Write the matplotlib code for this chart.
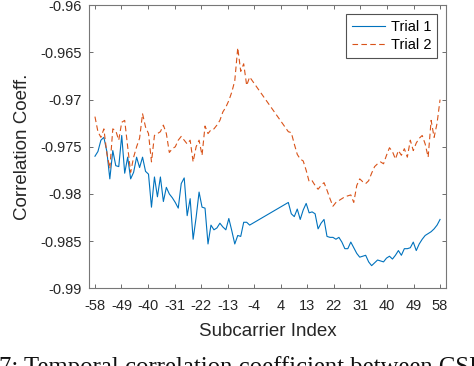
import numpy as np
import matplotlib
matplotlib.use("Agg")
import matplotlib.pyplot as plt

# Subcarrier indices (data missing between -6 and 7)
sub_left = list(range(-58, -5))
sub_right = list(range(7, 59))
subcarriers = sub_left + sub_right

trial1 = [
    -0.9760, -0.9755, -0.9743, -0.9740, -0.9755, -0.9784, -0.9754, -0.9770, -0.9771, -0.9738,
    -0.9778, -0.9761, -0.9784, -0.9777, -0.9761, -0.9772, -0.9761, -0.9776, -0.9779, -0.9814,
    -0.9782, -0.9803, -0.9782, -0.9808, -0.9793, -0.9800, -0.9804, -0.9809, -0.9815, -0.9789,
    -0.9783, -0.9823, -0.9805, -0.9848, -0.9825, -0.9798, -0.9814, -0.9815, -0.9853, -0.9833,
    -0.9838, -0.9836, -0.9831, -0.9835, -0.9838, -0.9826, -0.9839, -0.9853, -0.9844, -0.9845,
    -0.9830, -0.9830, -0.9833,
    -0.9809, -0.9821, -0.9824, -0.9816, -0.9827, -0.9817, -0.9810, -0.9820, -0.9819, -0.9821,
    -0.9837, -0.9831, -0.9827, -0.9845, -0.9846, -0.9846, -0.9848, -0.9846, -0.9851, -0.9858,
    -0.9858, -0.9851, -0.9857, -0.9863, -0.9867, -0.9866, -0.9865, -0.9872, -0.9876, -0.9873,
    -0.9870, -0.9871, -0.9872, -0.9868, -0.9866, -0.9869, -0.9865, -0.9860, -0.9865, -0.9858,
    -0.9858, -0.9857, -0.9851, -0.9860, -0.9853, -0.9848, -0.9844, -0.9842, -0.9840, -0.9837,
    -0.9833, -0.9827,
]

trial2 = [
    -0.9718, -0.9734, -0.9740, -0.9731, -0.9757, -0.9773, -0.9731, -0.9733, -0.9743, -0.9724,
    -0.9722, -0.9750, -0.9777, -0.9761, -0.9750, -0.9741, -0.9715, -0.9729, -0.9736, -0.9766,
    -0.9738, -0.9736, -0.9734, -0.9727, -0.9736, -0.9756, -0.9752, -0.9750, -0.9743, -0.9739,
    -0.9743, -0.9747, -0.9743, -0.9766, -0.9750, -0.9743, -0.9759, -0.9728, -0.9736, -0.9732,
    -0.9731, -0.9727, -0.9722, -0.9713, -0.9708, -0.9701, -0.9692, -0.9680, -0.9645, -0.9670,
    -0.9662, -0.9685, -0.9676,
    -0.9734, -0.9735, -0.9747, -0.9758, -0.9763, -0.9765, -0.9775, -0.9787, -0.9786, -0.9791,
    -0.9795, -0.9791, -0.9788, -0.9796, -0.9805, -0.9813, -0.9809, -0.9807, -0.9805, -0.9803,
    -0.9802, -0.9801, -0.9809, -0.9791, -0.9784, -0.9787, -0.9789, -0.9786, -0.9778, -0.9771,
    -0.9768, -0.9766, -0.9768, -0.9759, -0.9751, -0.9755, -0.9763, -0.9754, -0.9759, -0.9752,
    -0.9761, -0.9743, -0.9754, -0.9746, -0.9741, -0.9738, -0.9747, -0.9761, -0.9722, -0.9740,
    -0.9725, -0.9700,
]

xtick_labels = ["-58", "-49", "-40", "-31", "-22", "-13", "-4", "4", "13", "22", "31", "40", "49", "58"]
ytick_vals = [-0.99, -0.985, -0.98, -0.975, -0.97, -0.965, -0.96]
ytick_labels = ["-0.99", "-0.985", "-0.98", "-0.975", "-0.97", "-0.965", "-0.96"]

plt.rcParams['font.family'] = ['Liberation Sans', 'DejaVu Sans']

fig = plt.figure(figsize=(4.74, 3.66), dpi=100)
ax = fig.add_axes([89 / 474, 1 - 288.3 / 366, (446 - 89) / 474, (288.3 - 5.3) / 366])

ax.plot(subcarriers, trial1, color='#0072BD', lw=0.8, label='Trial 1')
ax.plot(subcarriers, trial2, color='#D95319', lw=0.8, ls=(0, (5, 3)), label='Trial 2')

ax.set_xlim(-60, 60)
ax.set_ylim(-0.99, -0.96)
ax.set_xticks(np.linspace(-58, 58, len(xtick_labels)))
ax.set_xticklabels(xtick_labels)
ax.set_yticks(ytick_vals)
ax.set_yticklabels(ytick_labels)

ax.tick_params(direction='in', top=True, right=True, length=3, width=0.6,
               colors='#555555', labelcolor='#262626', labelsize=10.5)
ax.tick_params(axis='x', pad=7.5)
ax.tick_params(axis='y', pad=5)
for s in ax.spines.values():
    s.set_color('#777777')
    s.set_linewidth(0.8)

ax.set_xlabel('Subcarrier Index', fontsize=13.5, color='#262626')
ax.set_ylabel('Correlation Coeff.', fontsize=13.5, color='#262626')
ax.xaxis.set_label_coords(0.5, (288.3 - 322.5) / 283.0)
ax.yaxis.set_label_coords((31 - 89) / 357.0, 0.5)

leg = ax.legend(loc='upper right', fontsize=10.5, frameon=True, fancybox=False,
                handlelength=2.3, handletextpad=0.4, borderpad=0.4, labelspacing=0.3,
                borderaxespad=0.6)
leg.get_frame().set_edgecolor('#262626')
leg.get_frame().set_linewidth(0.8)

fig.text(-0.002, 1 - 356 / 366, '7: Temporal correlation coefficient between CSI',
         family=['Liberation Serif', 'DejaVu Serif'], fontsize=17.8, va='top', ha='left',
         color='#111111')

fig.savefig('out.png', dpi=100)
